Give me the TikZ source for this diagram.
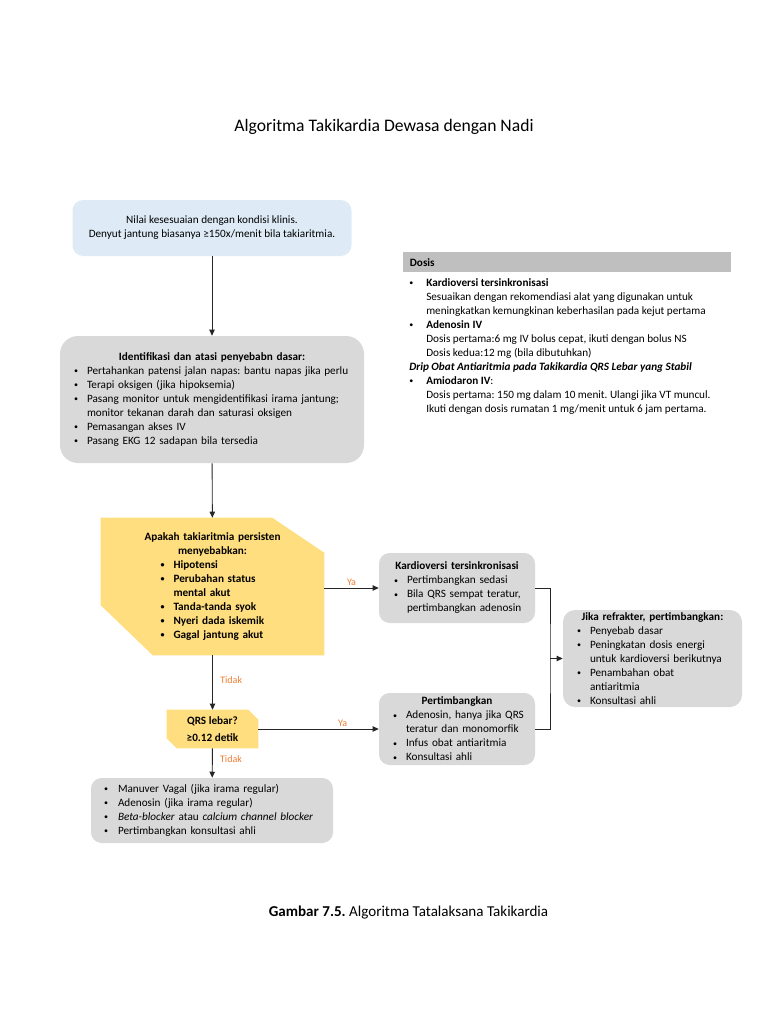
\documentclass[tikz,border=0pt]{standalone}
\usepackage{fontspec}
\setmainfont{Carlito}
\usetikzlibrary{arrows.meta,calc,backgrounds}
\frenchspacing

\definecolor{bluebox}{RGB}{222,235,247}
\definecolor{graybox}{RGB}{217,217,217}
\definecolor{yellowbox}{RGB}{255,222,128}
\definecolor{headgray}{RGB}{191,191,191}
\definecolor{labelorange}{RGB}{237,125,49}

\newcommand{\dotb}{\raisebox{0.6pt}{\fontsize{6}{6}\selectfont\textbullet}}
\newcommand{\itm}[2][9.75pt]{\mbox{\makebox[#1][l]{\dotb}#2}}
\newcommand{\cnt}[2][9.75pt]{\mbox{\hspace*{#1}#2}}
\newcommand{\ttl}[1]{\makebox[\hsize]{\textbf{#1}}}

\tikzset{
  txt/.style={font=\fontsize{8.4}{10.5}\selectfont, inner sep=0pt},
  rbox/.style={txt, fill=graybox, rounded corners=8pt, align=left},
  chamf/.style={txt, align=left},
  arr/.style={-{Triangle[length=4.5pt,width=4pt]}, line width=0.7pt, black!85},
  lbl/.style={font=\fontsize{7.5}{8}\selectfont, text=labelorange, inner sep=1.5pt}
}

\begin{document}
\begin{tikzpicture}[x=0.75pt,y=-0.75pt]
\useasboundingbox (0,0) rectangle (768,1024);

\node[font=\fontsize{13.2}{15}\selectfont] (title) at (384,127) {Algoritma Takikardia Dewasa dengan Nadi};

% flow boxes
\node[txt, fill=bluebox, rounded corners=8pt, align=center, minimum width=209.25pt, minimum height=42pt] (nilai) at (212,228)
  {Nilai kesesuaian dengan kondisi klinis.\\Denyut jantung biasanya ≥150x/menit bila takiaritmia.};

\node[rbox, rounded corners=13.5pt, minimum width=228pt, minimum height=95.25pt, text width=207pt] (ident) at (212,399.5)
  {\ttl{Identifikasi dan atasi penyebabn dasar:}\\
   \itm{Pertahankan patensi jalan napas: bantu napas jika perlu}\\
   \itm{Terapi oksigen (jika hipoksemia)}\\
   \itm{Pasang monitor untuk mengidentifikasi irama jantung;}\\
   \cnt{monitor tekanan darah dan saturasi oksigen}\\
   \itm{Pemasangan akses IV}\\
   \itm{Pasang EKG 12 sadapan bila tersedia}};

\node[chamf, font=\fontsize{8.4}{10.5}\selectfont\bfseries, minimum width=167.25pt, minimum height=102.75pt, text width=78pt] (persist) at (212.5,586.5)
  {\ttl{Apakah takiaritmia persisten}\\
   \ttl{menyebabkan:}\\
   \itm{Hipotensi}\\
   \itm{Perubahan status}\\
   \cnt{mental akut}\\
   \itm{Tanda-tanda syok}\\
   \itm{Nyeri dada iskemik}\\
   \itm{Gagal jantung akut}};

\node[chamf, font=\fontsize{8.4}{12.5}\selectfont\bfseries, align=center, minimum width=68.25pt, minimum height=28.5pt] (qrs) at (212.5,729)
  {QRS lebar?\\≥0.12 detik};

\node[rbox, minimum width=181.5pt, minimum height=48.75pt, text width=162pt] (narrow) at (212,810.5)
  {\itm[10.5pt]{Manuver Vagal (jika irama regular)}\\
   \itm[10.5pt]{Adenosin (jika irama regular)}\\
   \itm[10.5pt]{\textit{Beta-blocker} atau \textit{calcium channel blocker}}\\
   \itm[10.5pt]{Pertimbangkan konsultasi ahli}};

\node[rbox, minimum width=117pt, minimum height=52.5pt, text width=94.5pt] (kardio) at (457,588)
  {\ttl{Kardioversi tersinkronisasi}\\
   \itm{Pertimbangkan sedasi}\\
   \itm{Bila QRS sempat teratur,}\\
   \cnt{pertimbangkan adenosin}};

\node[rbox, minimum width=117pt, minimum height=54pt, text width=96pt] (pertimb) at (457,729)
  {\ttl{Pertimbangkan}\\
   \itm{Adenosin, hanya jika QRS}\\
   \cnt{teratur dan monomorfik}\\
   \itm{Infus obat antiaritmia}\\
   \itm{Konsultasi ahli}};

\node[rbox, rounded corners=9pt, minimum width=134.25pt, minimum height=72.75pt, text width=113.25pt] (refrakter) at (652.5,658.5)
  {\ttl{Jika refrakter, pertimbangkan:}\\
   \itm{Penyebab dasar}\\
   \itm{Peningkatan dosis energi}\\
   \cnt{untuk kardioversi berikutnya}\\
   \itm{Penambahan obat}\\
   \cnt{antiaritmia}\\
   \itm{Konsultasi ahli}};

% chamfered shapes behind the text
\begin{scope}[on background layer]
\fill[white] (0,0) rectangle (768,1024);
\fill[yellowbox] (persist.north west) -- ($(persist.north east)+(-52,0)$) -- ($(persist.north east)+(0,35)$)
  -- (persist.south east) -- ($(persist.south west)+(52,0)$) -- ($(persist.south west)+(0,-50)$) -- cycle;
\fill[yellowbox] (qrs.north west) -- ($(qrs.north east)+(-10,0)$) -- ($(qrs.north east)+(0,10)$)
  -- (qrs.south east) -- ($(qrs.south west)+(10,0)$) -- ($(qrs.south west)+(0,-10)$) -- cycle;
\end{scope}

% dosis panel
\node[txt, fill=headgray, anchor=north west, align=left, minimum width=246pt, minimum height=15pt, text width=236pt, inner xsep=5pt] (dosis) at (403,252)
  {\textbf{Dosis}};
\node[txt, anchor=north west, align=left] (dosisbody) at (409,278)
  {\itm[12.75pt]{\textbf{Kardioversi tersinkronisasi}}\\
   \cnt[12.75pt]{Sesuaikan dengan rekomendiasi alat yang digunakan untuk}\\
   \cnt[12.75pt]{meningkatkan kemungkinan keberhasilan pada kejut pertama}\\
   \itm[12.75pt]{\textbf{Adenosin IV}}\\
   \cnt[12.75pt]{Dosis pertama:6 mg IV bolus cepat, ikuti dengan bolus NS}\\
   \cnt[12.75pt]{Dosis kedua:12 mg (bila dibutuhkan)}\\
   \textbf{\textit{Drip Obat Antiaritmia pada Takikardia QRS Lebar yang Stabil}}\\
   \itm[12.75pt]{\textbf{Amiodaron IV}:}\\
   \cnt[12.75pt]{Dosis pertama: 150 mg dalam 10 menit. Ulangi jika VT muncul.}\\
   \cnt[12.75pt]{Ikuti dengan dosis rumatan 1 mg/menit untuk 6 jam pertama.}};

% connectors
\coordinate (join) at (550,658.5);
\draw[arr] (nilai) -- (ident);
\draw[arr] (ident) -- (persist);
\draw[arr] (persist.east |- kardio.west) -- node[lbl, above]{Ya} (kardio.west);
\draw[arr] (persist) -- node[lbl, right, pos=0.45, xshift=4pt]{Tidak} (qrs);
\draw[arr] (qrs.east) -- node[lbl, above, pos=0.7]{Ya} (pertimb.west);
\draw[arr] (qrs) -- node[lbl, right, pos=0.37, xshift=4pt]{Tidak} (narrow);
\draw[line width=0.7pt, black!85] (kardio.east) -| (join) |- (pertimb.east);
\draw[arr] (join) -- (refrakter.west);

\node[font=\fontsize{11.3}{13}\selectfont] (caption) at (408.5,912) {\textbf{Gambar 7.5.} Algoritma Tatalaksana Takikardia};
\end{tikzpicture}
\end{document}
